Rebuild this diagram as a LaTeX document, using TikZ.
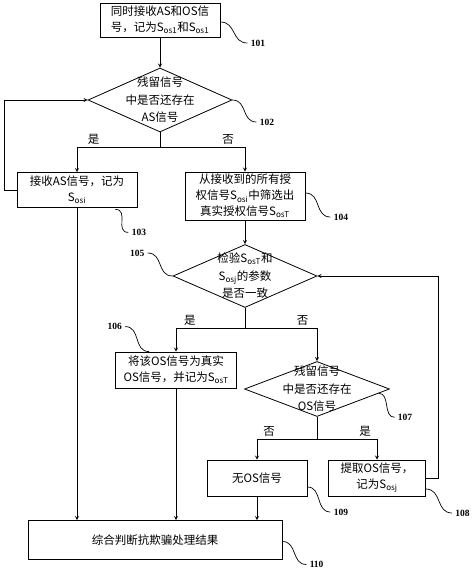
\documentclass[tikz,border=0pt]{standalone}
\usepackage{fontspec}
\setmainfont{Noto Sans CJK SC}
\newfontfamily\numfont{Liberation Serif}
\usepackage{tikz}
\usetikzlibrary{shapes.geometric, arrows, positioning}
\tikzstyle{arrow} = [line width=0.8pt,->,>=stealth]
\tikzstyle{link} = [line width=0.8pt]
\tikzstyle{block} = [rectangle, draw, line width=0.8pt, inner sep=1pt, font=\fontsize{11.5}{16}\selectfont]
\tikzstyle{decision} = [diamond, draw, line width=0.8pt, inner sep=0pt, minimum width=144pt, minimum height=64pt]
\tikzstyle{dtext} = [inner sep=0pt, font=\fontsize{11.5}{17.5}\selectfont]
\tikzstyle{yesno} = [anchor=south, inner sep=2.5pt, font=\fontsize{11.5}{12}\selectfont]
\tikzstyle{numtag} = [inner sep=3pt, font=\numfont\bfseries\fontsize{9.5}{10}\selectfont]
\tikzstyle{squig} = [line width=0.7pt]
\tikzset{every node/.style={align=center}}
\newcommand{\sig}[1]{S\textsubscript{#1}}

\begin{document}
\begin{tikzpicture}[x=1pt, y=-1pt, node distance=80pt]
    \useasboundingbox (0,0) rectangle (474,569);
    \node (b101) [block, minimum width=120pt, minimum height=34pt] at (160,20) {同时接收AS和OS信\\号，记为\sig{os1}和\sig{os1}};
    \node (d102) [decision, below of=b101, label={[dtext]center:残留信号\\中是否还存在\\AS信号}] {};
    \node (b103) [block, minimum width=120pt, minimum height=35pt, below of=d102, xshift=-83pt, yshift=-10pt] {接收AS信号，记为\\\sig{osi}};
    \node (b104) [block, minimum width=120pt, minimum height=48pt, below of=d102, xshift=85pt, yshift=-16pt] {从接收到的所有授\\权信号\sig{osi}中筛选出\\真实授权信号\sig{osT}};
    \node (d105) [decision, minimum height=63pt, below of=b104, label={[dtext]center:检验\sig{osT}和\\\sig{osj}的参数\\是否一致}] {};
    \node (b106) [block, minimum width=121pt, minimum height=36pt, below of=d105, xshift=-69pt, yshift=-14pt] {将该OS信号为真实\\OS信号，并记为\sig{osT}};
    \node (d107) [decision, minimum width=145pt, minimum height=55pt, below of=d105, xshift=72pt, yshift=-33pt, label={[dtext]center:残留信号\\中是否还存在\\OS信号}] {};
    \node (b109) [block, minimum width=100pt, minimum height=36pt, below of=d107, xshift=-60pt, yshift=-9pt] {无OS信号};
    \node (b108) [block, minimum width=97pt, minimum height=36pt, below of=d107, xshift=60pt, yshift=-9pt] {提取OS信号，\\记为\sig{osj}};
    \node (b110) [block, minimum width=254pt, minimum height=39pt, below of=b106, xshift=-21pt, yshift=-90pt] {综合判断抗欺骗处理结果};

    % main flow
    \draw [arrow] (b101.south) -- (d102.north);
    \coordinate (j102) at ([yshift=-15pt]d102.south);
    \draw [link] (d102.south) -- (j102);
    \draw [arrow] (j102) -| node[yesno, pos=0.4]{是} (b103.north);
    \draw [arrow] (j102) -| node[yesno, pos=0.4]{否} (b104.north);
    \draw [arrow] (b103.west) -- ++(-12,0) |- (d102.west);
    \draw [arrow] (b104.south) -- (d105.north);
    \coordinate (j105) at ([yshift=-20pt]d105.south);
    \draw [link] (d105.south) -- (j105);
    \draw [arrow] (j105) -| node[yesno, pos=0.4]{是} (b106.north);
    \draw [arrow] (j105) -| node[yesno, pos=0.4]{否} (d107.north);
    \coordinate (j107) at ([yshift=-22pt]d107.south);
    \draw [link] (d107.south) -- (j107);
    \draw [arrow] (j107) -| node[yesno, pos=0.4]{否} (b109.north);
    \draw [arrow] (j107) -| node[yesno, pos=0.4]{是} (b108.north);
    \draw [arrow] (b108.east) -- ++(12,0) |- (d105.east);
    \draw [arrow] (b103.south) -- (b103.south |- b110.north);
    \draw [arrow] (b106.south) -- (b106.south |- b110.north);
    \draw [arrow] (b109.south) -- (b109.south |- b110.north);

    % reference numbers
    \draw [squig] ([yshift=-2pt]b101.east) .. controls +(16,0) and +(-16,0) .. ++(27,21) node[numtag, anchor=west] {101};
    \draw [squig] (d102.east) .. controls +(15,0) and +(-15,0) .. ++(24,22) node[numtag, anchor=west] {102};
    \draw [squig] ([xshift=-22pt, yshift=-1.5pt]b103.south east) .. controls +(14,0) and +(-14,0) .. ++(13,23) node[numtag, anchor=west] {103};
    \draw [squig] ([yshift=3pt]b104.east) .. controls +(16,0) and +(-16,0) .. ++(25,24) node[numtag, anchor=west] {104};
    \draw [squig] (d105.west) .. controls +(-16,0) and +(16,0) .. ++(-25,-23) node[numtag, anchor=east] {105};
    \draw [squig] ([xshift=34pt]b106.north west) .. controls +(-16,0) and +(16,0) .. ++(-24,-25) node[numtag, anchor=east] {106};
    \draw [squig] (d107.-4) .. controls +(12,0) and +(-12,0) .. ++(16,24) node[numtag, anchor=west] {107};
    \draw [squig] ([yshift=-9pt]b109.east) .. controls +(15,0) and +(-15,0) .. ++(23,25) node[numtag, anchor=west] {109};
    \draw [squig] ([yshift=-11pt]b108.east) .. controls +(16,0) and +(-16,0) .. ++(26,24) node[numtag, anchor=west] {108};
    \draw [squig] ([yshift=-1.5pt]b110.east) .. controls +(15,0) and +(-15,0) .. ++(24,23) node[numtag, anchor=west] {110};
\end{tikzpicture}
\end{document}
